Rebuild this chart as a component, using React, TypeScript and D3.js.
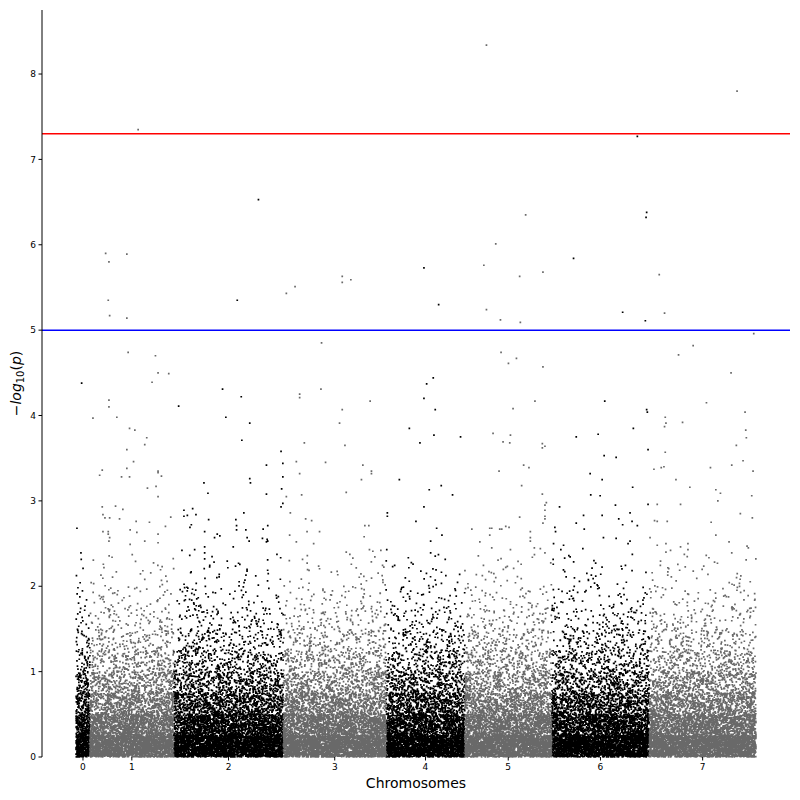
import React, { useMemo } from "react";
import * as d3 from "d3";

// ---------- data ----------
const chromosomes = ["0", "1", "2", "3", "4", "5", "6", "7"];
// chromosome lengths in position units (cumulative genome axis)
const chromLength = [14, 84, 110, 103, 79, 87, 98, 107];
const snpsPerUnit = 60;
const chromColors = ["#000000", "#696969"];
const yTickValues = [0, 1, 2, 3, 4, 5, 6, 7, 8];
const yMax = 8.75;
// background (non-significant) SNPs: share per 1000 SNPs in each -log10(p) band
const bandEdges = [0, 0.25, 0.5, 0.75, 1, 1.25, 1.5, 1.75, 2, 2.25, 2.38];
const bandPerMille = [438, 246, 138, 78, 44, 25, 14, 8, 4, 1.5];
const genomeWideLine = 7.3;
const suggestiveLine = 5;
// individually read SNPs above the background: [cumulative position, -log10(p)]
const topHits: [number, number][] = [
  [62.3, 7.35], [411.7, 8.34], [663, 7.8], [563, 7.27], [183, 6.53], [451, 6.35],
  [572.3, 6.38], [571.7, 6.32], [421, 6.01], [29.7, 5.9], [51, 5.89], [33, 5.8],
  [32.3, 5.35], [33.7, 5.17], [51, 5.14], [161.7, 5.35], [211, 5.43], [219.7, 5.51],
  [267, 5.63], [267, 5.56], [275.7, 5.59], [349, 5.73], [409, 5.76], [445, 5.63],
  [468.3, 5.68], [499, 5.84], [585, 5.65], [363.7, 5.3], [411.7, 5.24], [425.7, 5.12],
  [445.7, 5.09], [548.3, 5.21], [571, 5.11], [590.3, 5.2], [679.7, 4.96],
  [52.3, 4.74], [79.7, 4.7], [82.3, 4.5], [93, 4.49], [76.3, 4.39], [5.7, 4.38],
  [147, 4.31], [246.3, 4.85], [245.7, 4.31], [426.3, 4.74], [441.7, 4.67], [433.7, 4.61],
  [468.3, 4.57], [619, 4.82], [604.3, 4.71], [657, 4.5], [358.3, 4.44], [351.7, 4.37],
  [165.7, 4.22], [224.3, 4.25], [224.3, 4.21], [295, 4.17], [33, 4.18], [33, 4.1],
  [103, 4.11], [17, 3.97], [41, 3.98], [150.3, 3.98], [267, 4.07], [264.3, 3.91],
  [174.3, 3.91], [334.3, 3.85], [53.7, 3.85], [59, 3.83], [71, 3.74], [69, 3.66],
  [166.3, 3.71], [229, 3.68], [269.7, 3.65], [51, 3.6], [205.7, 3.58], [57.7, 3.46],
  [207.5, 3.44], [221, 3.46], [250.3, 3.45], [287.7, 3.42], [191, 3.42], [26.3, 3.36],
  [23.7, 3.3], [51, 3.38], [45.7, 3.28], [53.7, 3.28], [82.3, 3.35], [82.3, 3.33],
  [85.7, 3.29], [224.3, 3.32], [296.3, 3.35], [296.3, 3.32], [207.5, 3.28], [174.3, 3.26],
  [175, 3.21], [286.3, 3.25], [324.3, 3.25], [128.3, 3.21], [71.7, 3.15], [80.3, 3.17],
  [132.3, 3.09], [191, 3.08], [206.3, 3.14], [82.3, 3.05], [211, 3.05], [226.3, 3.07],
  [271, 3.1], [205.7, 2.93], [207.5, 2.97], [26.3, 2.93], [39.7, 2.94], [47, 2.9],
  [27, 2.84], [29, 2.8], [33.7, 2.8], [43.7, 2.79], [108.3, 2.89], [108.3, 2.82],
  [111.7, 2.83], [117, 2.91], [120.3, 2.84], [95, 2.81], [168.3, 2.86], [133, 2.78],
  [160.3, 2.78], [215, 2.86], [230.3, 2.79], [236.3, 2.77], [312.3, 2.86], [312.3, 2.82],
  [341, 2.76], [1, 2.68], [60.3, 2.76], [73.7, 2.75], [115.7, 2.72], [114.3, 2.69],
  [89.7, 2.7], [161, 2.71], [161, 2.66], [170.3, 2.66], [192.3, 2.71], [187.7, 2.67],
  [27, 2.64], [32.3, 2.64], [32.3, 2.61], [61, 2.63], [54.3, 2.66], [82.3, 2.61],
  [129, 2.64], [141.7, 2.61], [144.3, 2.59], [139, 2.57], [171.7, 2.57], [173.7, 2.53],
  [187, 2.56], [191.7, 2.55], [191, 2.52], [192.3, 2.53], [214.3, 2.6], [231.7, 2.64],
  [244.3, 2.64], [289.7, 2.71], [293.7, 2.71], [289, 2.58], [33.7, 2.57], [33, 2.53],
  [54.3, 2.49], [69, 2.53], [82.3, 2.51], [221, 2.52], [238.3, 2.5], [129, 2.46],
  [119, 2.43], [157.7, 2.46], [5, 2.39], [106.3, 2.42], [129, 2.39], [271, 2.4],
  [294.3, 2.43], [297.7, 2.41], [305.7, 2.42], [311.7, 2.43],
  [349, 4.2], [360.3, 4.07], [460.3, 4.17], [530.3, 4.17], [438.3, 4.08], [572.3, 4.07],
  [573, 4.04], [632.3, 4.15], [671, 4.04], [591, 3.98], [591.7, 3.91], [590.3, 3.87],
  [608.3, 3.92], [559, 3.85], [671.7, 3.83], [672.3, 3.74], [359, 3.77], [385.7, 3.75],
  [345, 3.68], [418.3, 3.79], [435.7, 3.77], [428.3, 3.69], [435, 3.68], [467.7, 3.67],
  [470.3, 3.64], [467.7, 3.62], [501.7, 3.75], [523.7, 3.78], [662.3, 3.65], [573.7, 3.6],
  [591, 3.57], [529.7, 3.53], [541.7, 3.51], [669, 3.47], [424.3, 3.35], [449, 3.42],
  [454.3, 3.39], [579.7, 3.37], [587, 3.39], [589.7, 3.4], [636.3, 3.39], [657.7, 3.42],
  [679, 3.35], [515.7, 3.32], [527.7, 3.25], [601.7, 3.25], [366.3, 3.18], [354.3, 3.13],
  [377.7, 3.07], [447, 3.18], [558.3, 3.16], [615.7, 3.16], [641.7, 3.13], [646.3, 3.09],
  [643.7, 3.0], [677.7, 3.06], [516.3, 3.07], [525.7, 3.06], [349, 2.93], [467.7, 3.08],
  [471.7, 2.98], [470.3, 2.95], [470.3, 2.89], [485, 2.93], [541, 2.95], [573.7, 2.96],
  [583, 2.96], [606.3, 2.96], [666.3, 2.85], [678.3, 2.8], [445, 2.81], [470.3, 2.82],
  [470.3, 2.79], [509, 2.83], [527.7, 2.83], [544.3, 2.79], [548.3, 2.72], [555.7, 2.86],
  [557.7, 2.76], [563, 2.71], [580.3, 2.77], [583, 2.76], [593, 2.76], [637, 2.75],
  [501.7, 2.74], [468.3, 2.74], [361.7, 2.68], [367, 2.6], [355.7, 2.53], [355.7, 2.39],
  [397, 2.67], [415, 2.68], [417, 2.68], [425, 2.67], [427, 2.67], [431, 2.7],
  [434.3, 2.69], [415, 2.6], [405, 2.52], [417, 2.45], [435.7, 2.43], [455.7, 2.64],
  [455.7, 2.57], [455.7, 2.53], [459.7, 2.45], [465.7, 2.44], [470.3, 2.39], [480.3, 2.69],
  [481, 2.64], [479, 2.5], [489, 2.48], [486.3, 2.43], [509.7, 2.67], [508.3, 2.44],
  [529, 2.57], [541.7, 2.56], [555.7, 2.53], [553.7, 2.5], [575.7, 2.57], [583, 2.48],
  [591.7, 2.5], [596.3, 2.42], [591.7, 2.4], [606.3, 2.46], [613.7, 2.5], [613.7, 2.43],
  [641.7, 2.6], [655, 2.52], [657.7, 2.39], [673, 2.47], [674.3, 2.45],
];

// ---------- layout ----------
const W = 800;
const H = 800;
const left = 42;
const right = 790;
const top = 10;
const bottom = 757;
const dot = 1.7;
const font = "DejaVu Sans, Liberation Sans, sans-serif";

function mix(i: number): number {
  let h = Math.imul(i ^ 0x9e3779b9, 0x85ebca6b);
  h ^= h >>> 13;
  h = Math.imul(h, 0xc2b2ae35);
  h ^= h >>> 16;
  return h >>> 0;
}

export default function App() {
  const total = d3.sum(chromLength);
  const starts = chromLength.map((_, i) => d3.sum(chromLength.slice(0, i)));
  const ends = chromLength.map((l, i) => starts[i] + l);

  const x = d3.scaleLinear().domain([-0.05 * total, 1.05 * total]).range([left, right]);
  const y = d3.scaleLinear().domain([0, yMax]).range([bottom, top]);

  const paths = useMemo(() => {
    const out = ["", ""];
    const sq = (px: number, py: number) =>
      `M${(px - dot / 2).toFixed(1)},${(py - dot / 2).toFixed(1)}h${dot}v${dot}h-${dot}z`;
    chromLength.forEach((len, c) => {
      const n = Math.round(len * snpsPerUnit);
      const counts = bandPerMille.map((p) => Math.round((n * p) / 1000));
      counts[0] += n - d3.sum(counts);
      const values: number[] = [];
      counts.forEach((cnt, b) => {
        const a = bandEdges[b];
        const e = bandEdges[b + 1];
        for (let k = 0; k < cnt; k++) values.push(a + ((k + 0.5) / cnt) * (e - a));
      });
      const order = d3.range(n).sort((p, q) => mix(p + c * 100003) - mix(q + c * 100003));
      const parts: string[] = [];
      for (let i = 0; i < n; i++) {
        const pos = starts[c] + (i + 0.5) / snpsPerUnit;
        parts.push(sq(x(pos), y(values[order[i]])));
      }
      out[c % 2] += parts.join("");
    });
    const hitParts = ["", ""];
    topHits.forEach(([pos, v]) => {
      let c = ends.findIndex((e) => pos < e);
      if (c < 0) c = chromLength.length - 1;
      hitParts[c % 2] += sq(x(pos), y(v));
    });
    return { bulk: out, hits: hitParts };
  }, []);

  const centers = chromLength.map((l, i) => starts[i] + l / 2);

  return (
    <svg
      width={W}
      height={H}
      style={{ position: "absolute", left: 0, top: 0, background: "#fff" }}
      fontFamily={font}
    >
      <rect width={W} height={H} fill="#fff" />
      {paths.bulk.map((d, i) => (
        <path key={"b" + i} d={d} fill={chromColors[i]} />
      ))}
      {paths.hits.map((d, i) => (
        <path key={"h" + i} d={d} fill={chromColors[i]} />
      ))}
      <line x1={left} x2={right} y1={y(genomeWideLine)} y2={y(genomeWideLine)} stroke="#ff0000" strokeWidth={1.5} />
      <line x1={left} x2={right} y1={y(suggestiveLine)} y2={y(suggestiveLine)} stroke="#0000ff" strokeWidth={1.5} />
      {/* left spine */}
      <line x1={left} x2={left} y1={top} y2={bottom} stroke="#000" strokeWidth={1} />
      {yTickValues.map((t) => (
        <g key={"yt" + t} transform={`translate(0,${y(t)})`}>
          <line x1={left - 3.5} x2={left} y1={0} y2={0} stroke="#000" strokeWidth={1} />
          <text x={left - 6} y={3.2} textAnchor="end" fontSize={9} fill="#000">
            {t}
          </text>
        </g>
      ))}
      {chromosomes.map((name, i) => (
        <g key={"xt" + name} transform={`translate(${x(centers[i])},${bottom})`}>
          <line x1={0} x2={0} y1={0} y2={3.5} stroke="#000" strokeWidth={1} />
          <text x={0} y={13} textAnchor="middle" fontSize={9} fill="#000">
            {name}
          </text>
        </g>
      ))}
      <text x={(left + right) / 2} y={788} textAnchor="middle" fontSize={14} fill="#000">
        Chromosomes
      </text>
      <text
        transform={`translate(21,${(top + bottom) / 2}) rotate(-90)`}
        textAnchor="middle"
        fontSize={14}
        fill="#000"
      >
        <tspan>−</tspan>
        <tspan fontStyle="italic">log</tspan>
        <tspan fontSize={10} dy={3}>10</tspan>
        <tspan dy={-3}>(</tspan>
        <tspan fontStyle="italic">p</tspan>
        <tspan>)</tspan>
      </text>
    </svg>
  );
}
